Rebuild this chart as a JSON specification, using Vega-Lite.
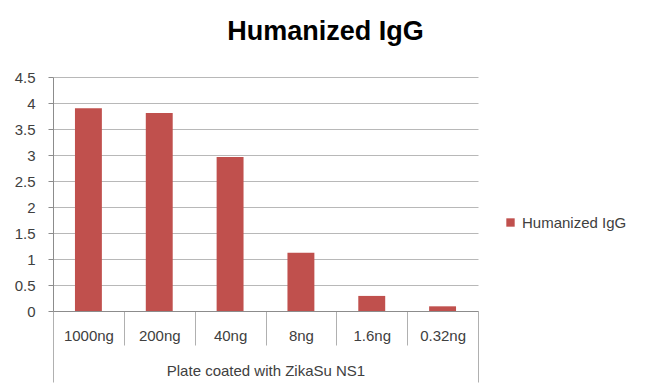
{
  "$schema": "https://vega.github.io/schema/vega-lite/v6.json",
  "width": 425,
  "height": 234,
  "autosize": "none",
  "padding": {"left": 53, "top": 77, "right": 172, "bottom": 81},
  "background": "white",
  "config": {
    "font": "Liberation Sans",
    "view": {"stroke": null},
    "axis": {"labelColor": "#404040", "labelFontSize": 15, "domainColor": "#8c8c8c", "tickColor": "#8c8c8c"}
  },
  "title": {
    "text": "Humanized IgG",
    "fontSize": 27,
    "fontWeight": "bold",
    "color": "#000000",
    "anchor": "middle",
    "frame": "group",
    "dx": 60,
    "offset": 3,
    "baseline": "alphabetic"
  },
  "encoding": {
    "y": {
      "field": "v", "type": "quantitative",
      "scale": {"domain": [0, 4.5], "nice": false},
      "axis": {"title": null, "values": [0, 0.5, 1, 1.5, 2, 2.5, 3, 3.5, 4, 4.5], "tickCount": 10, "format": ".2~f", "labelOverlap": false, "tickSize": 5, "labelPadding": 13, "gridColor": "#b8b8b8", "domainColor": "#8c8c8c"}
    }
  },
  "layer": [
    {
      "data": {"values": [
        {"c": "1000ng", "v": 3.9, "s": "Humanized IgG"},
        {"c": "200ng", "v": 3.81, "s": "Humanized IgG"},
        {"c": "40ng", "v": 2.96, "s": "Humanized IgG"},
        {"c": "8ng", "v": 1.12, "s": "Humanized IgG"},
        {"c": "1.6ng", "v": 0.29, "s": "Humanized IgG"},
        {"c": "0.32ng", "v": 0.09, "s": "Humanized IgG"}
      ]},
      "mark": {"type": "bar", "width": {"band": 0.38}},
      "encoding": {
        "x": {
          "field": "c", "type": "nominal", "sort": null,
          "scale": {"paddingInner": 0, "paddingOuter": 0},
          "axis": {"title": null, "labelAngle": 0, "tickBand": "extent", "tickSize": 34, "tickColor": "#b0b0b0", "labelBaseline": "middle", "labelPadding": -10, "grid": false, "labelOverlap": false}
        },
        "color": {
          "field": "s", "type": "nominal",
          "scale": {"range": ["#C0504D"]},
          "legend": {"title": null, "orient": "none", "legendX": 450, "legendY": 138, "symbolType": "square", "symbolSize": 70, "symbolStrokeWidth": 0, "labelFontSize": 15, "labelColor": "#404040", "padding": 0, "labelOffset": 4}
        }
      }
    },
    {
      "data": {"values": [{"g": "Plate coated with ZikaSu NS1", "v": 0}]},
      "mark": {"type": "bar", "opacity": 0},
      "encoding": {
        "x": {
          "field": "g", "type": "nominal",
          "scale": {"paddingInner": 0, "paddingOuter": 0},
          "axis": {"orient": "bottom", "title": null, "labelAngle": 0, "domain": false, "tickBand": "extent", "tickSize": 71, "tickColor": "#b0b0b0", "labelBaseline": "middle", "labelPadding": -12, "labelLimit": 500, "grid": false}
        }
      }
    }
  ],
  "resolve": {"scale": {"x": "independent"}, "axis": {"x": "independent"}}
}
